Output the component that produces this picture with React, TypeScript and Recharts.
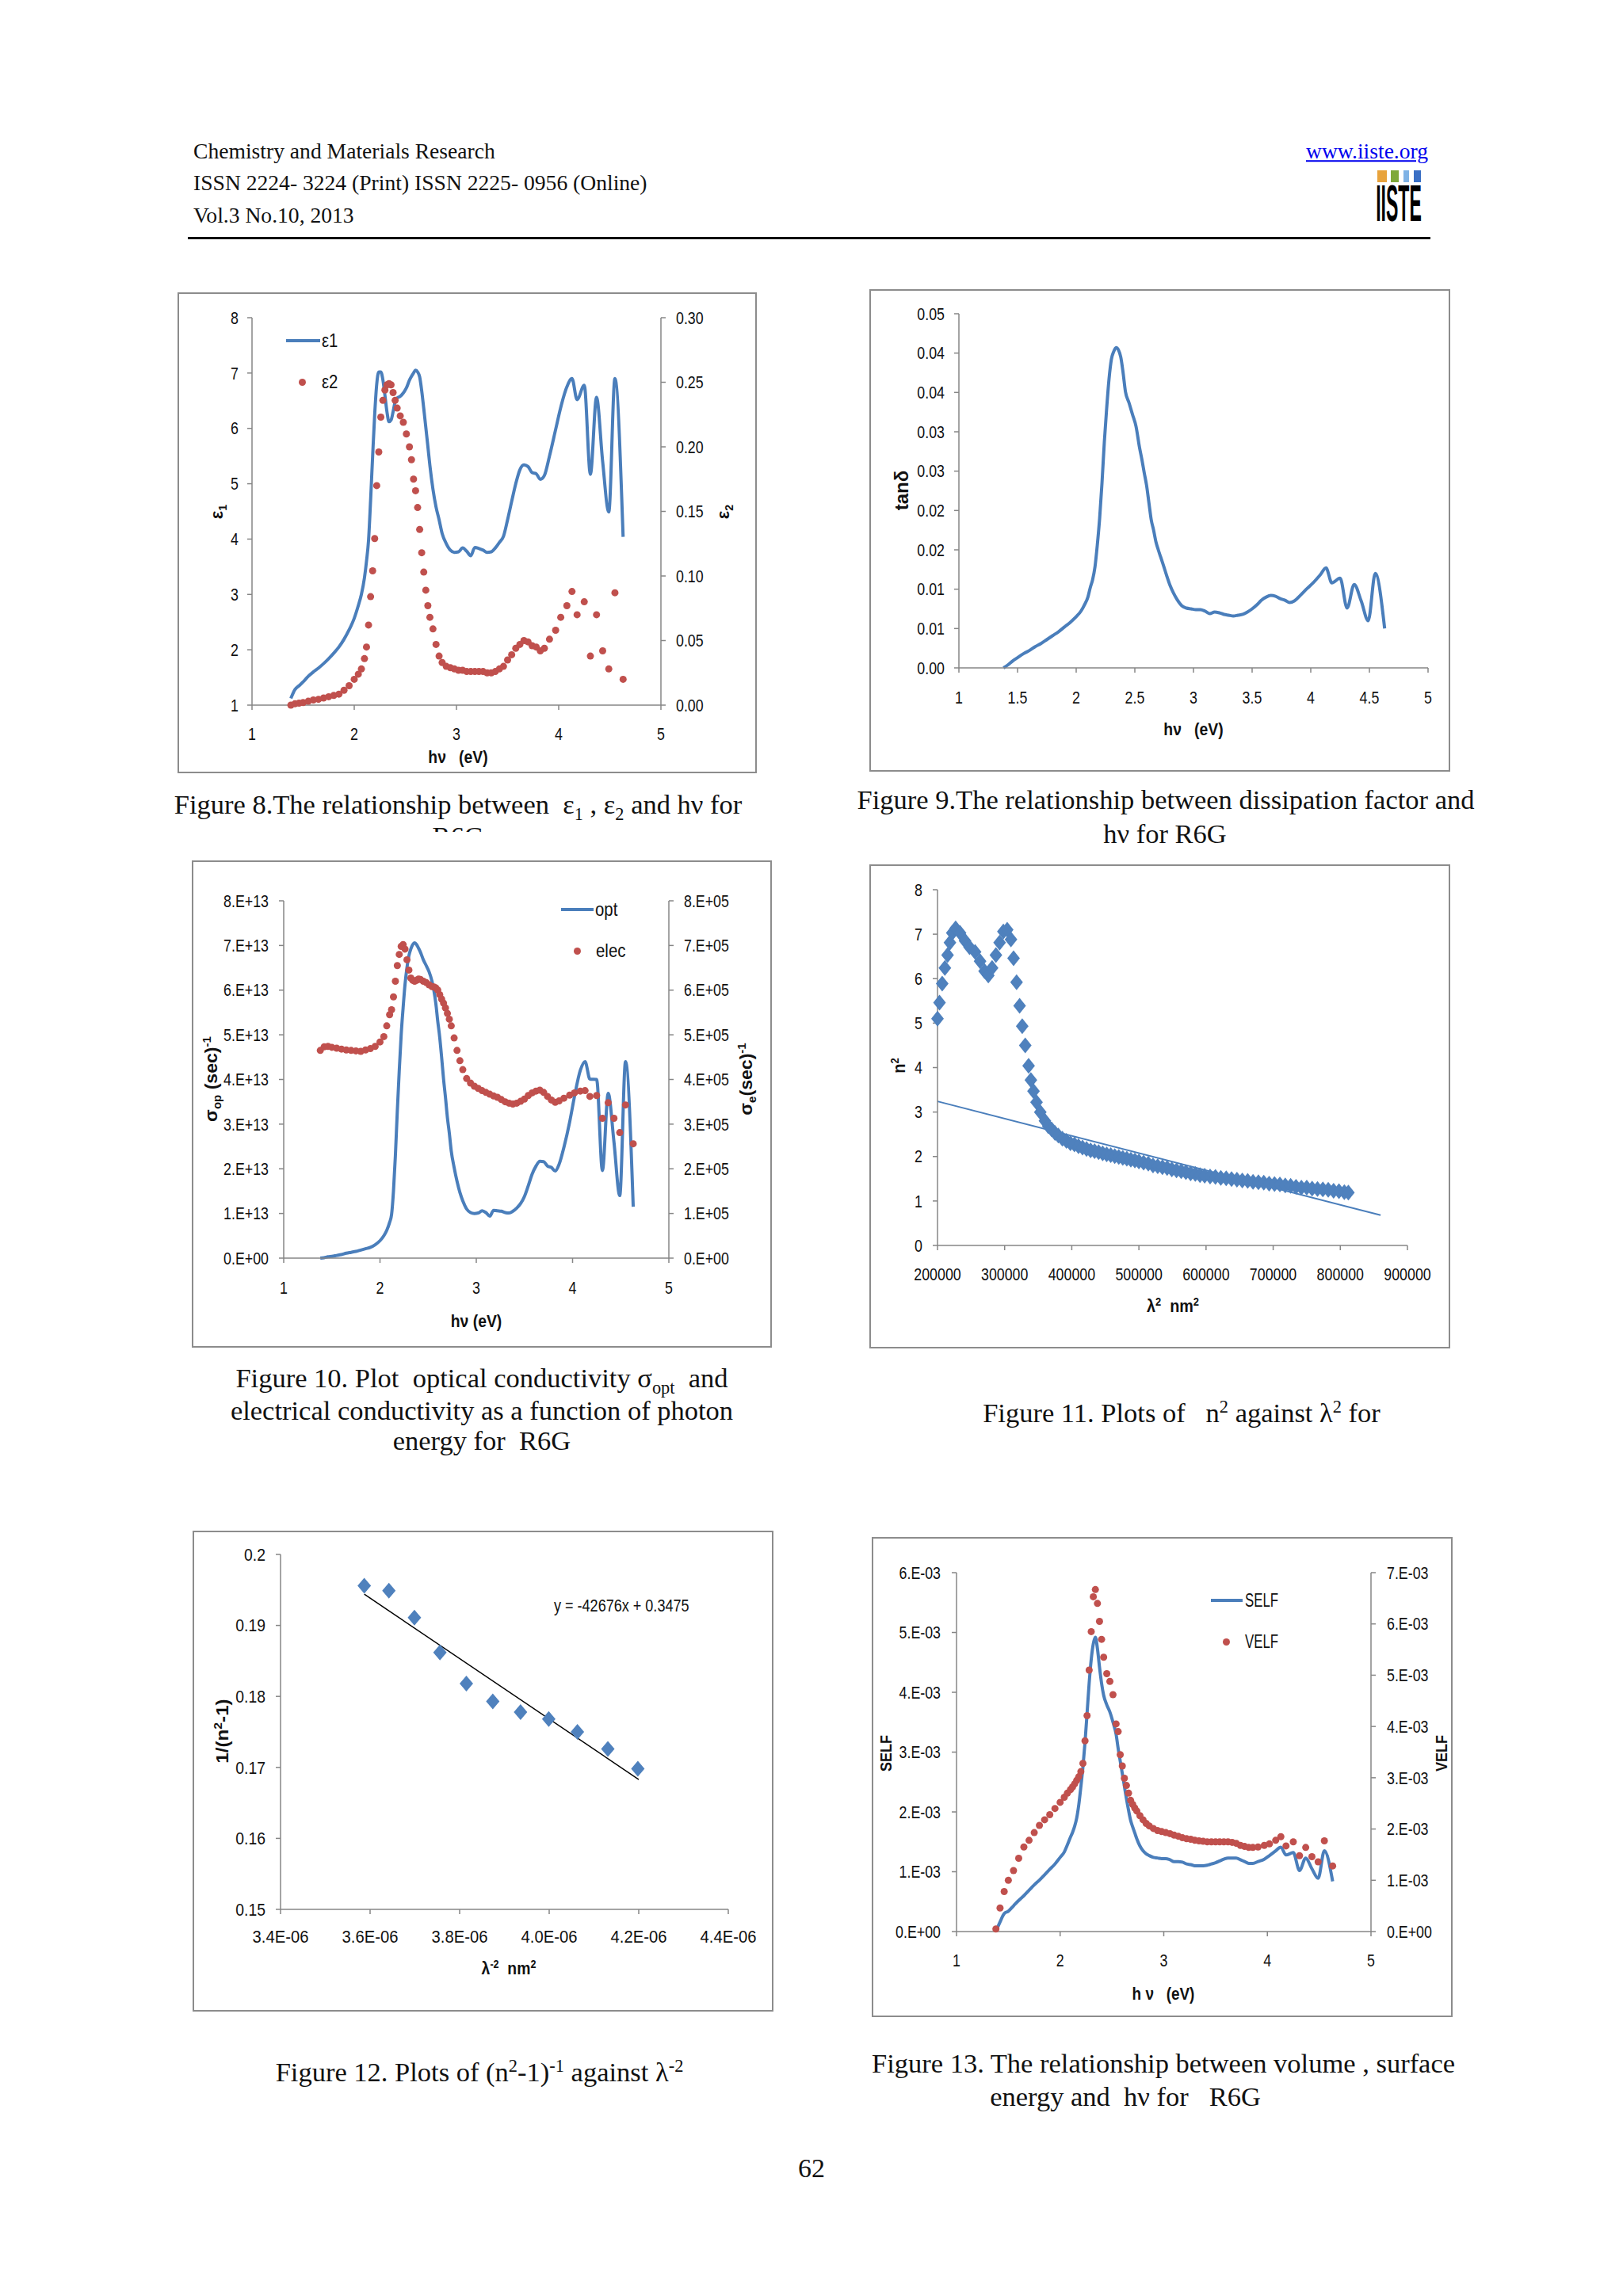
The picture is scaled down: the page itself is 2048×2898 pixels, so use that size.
import React from 'react';
import { ComposedChart, Line, XAxis, YAxis } from 'recharts';

const SANS = '"Liberation Sans", Arial, sans-serif';
const SERIF = '"Liberation Serif", "Times New Roman", serif';
const BLUE = '#4A7EBB';
const RED = '#C0504D';
const DIAMOND = '#4F81BD';
const AXIS = '#868686';
const FRAME = '#8C8C8C';
const INK = '#111111';

// photon energy grid (eV) shared by figs 8, 9, 10, 13
const energy = [
  1.38, 1.42, 1.46, 1.5, 1.55, 1.6, 1.65, 1.7, 1.75, 1.8,
  1.85, 1.9, 1.95, 2.0, 2.04, 2.07, 2.1, 2.12, 2.14, 2.16,
  2.18, 2.2, 2.22, 2.24, 2.26, 2.28, 2.3, 2.32, 2.34, 2.36,
  2.38, 2.4, 2.42, 2.45, 2.48, 2.51, 2.54, 2.56, 2.58, 2.6,
  2.62, 2.64, 2.66, 2.68, 2.7, 2.72, 2.74, 2.77, 2.8, 2.83,
  2.86, 2.9, 2.94, 2.98, 3.02, 3.06, 3.1, 3.14, 3.18, 3.22,
  3.26, 3.3, 3.34, 3.38, 3.42, 3.46, 3.5, 3.54, 3.58, 3.62,
  3.66, 3.7, 3.74, 3.78, 3.82, 3.86, 3.91, 3.97, 4.02, 4.08,
  4.13, 4.18, 4.25, 4.31, 4.37, 4.43, 4.49, 4.55, 4.63,
];

const eps1 = [
  1.12, 1.28, 1.35, 1.42, 1.52, 1.6, 1.67, 1.75, 1.84, 1.94,
  2.05, 2.19, 2.36, 2.57, 2.8, 3.0, 3.3, 3.6, 3.98, 4.7,
  5.5, 6.25, 6.8, 7.02, 7.02, 6.88, 6.6, 6.3, 6.12, 6.15,
  6.3, 6.48, 6.55, 6.58, 6.64, 6.73, 6.87, 6.94, 7.0, 7.05,
  7.02, 6.93, 6.68, 6.36, 6.02, 5.68, 5.33, 4.9, 4.58, 4.35,
  4.1, 3.92, 3.8, 3.76, 3.77, 3.84, 3.78, 3.7, 3.85, 3.83,
  3.8, 3.76, 3.77, 3.84, 3.94, 4.05, 4.35, 4.68, 5.0, 5.25,
  5.34, 5.31, 5.2, 5.18, 5.08, 5.15, 5.5, 5.98, 6.38, 6.75,
  6.9, 6.52, 6.78, 5.17, 6.56, 5.4, 4.49, 6.9, 4.04,
];

const eps2 = [
  0.0, 0.001, 0.0015, 0.002, 0.003, 0.004, 0.0045, 0.0055, 0.0065, 0.0075,
  0.0085, 0.0115, 0.015, 0.02, 0.024, 0.028, 0.036, 0.045, 0.062, 0.084,
  0.104, 0.129, 0.17, 0.196, 0.223, 0.236, 0.244, 0.248, 0.249, 0.248,
  0.242, 0.236, 0.23, 0.224, 0.219, 0.21, 0.2, 0.19, 0.175, 0.166,
  0.153, 0.136, 0.118, 0.103, 0.089, 0.077, 0.068, 0.059, 0.047, 0.038,
  0.033, 0.03, 0.029, 0.028, 0.027, 0.027, 0.026, 0.026, 0.026, 0.026,
  0.026, 0.025, 0.025, 0.026, 0.028, 0.03, 0.035, 0.039, 0.044, 0.047,
  0.05, 0.049, 0.046, 0.045, 0.042, 0.044, 0.051, 0.058, 0.068, 0.077,
  0.088, 0.07, 0.08, 0.038, 0.07, 0.042, 0.028, 0.087, 0.02,
];

const tanDelta = [
  0.0, 0.0004, 0.0009, 0.0013, 0.0018, 0.0022, 0.0027, 0.0031, 0.0036, 0.0041,
  0.0046, 0.0052, 0.0058, 0.0065, 0.0072, 0.008, 0.009, 0.0102, 0.0112, 0.0128,
  0.0156, 0.019, 0.0235, 0.0287, 0.033, 0.0367, 0.0392, 0.0402, 0.0407, 0.0404,
  0.0395, 0.0375, 0.0351, 0.0337, 0.0322, 0.0307, 0.028, 0.0265, 0.0248, 0.0232,
  0.021, 0.0188, 0.0175, 0.016, 0.015, 0.0141, 0.0132, 0.0118, 0.0105, 0.0095,
  0.0087, 0.0079, 0.0076, 0.0075, 0.0074, 0.0074, 0.0072, 0.0069, 0.0071, 0.007,
  0.0068, 0.0067, 0.0066, 0.0067, 0.0068, 0.0071, 0.0075, 0.008, 0.0086, 0.009,
  0.0092, 0.0091, 0.0088, 0.0086, 0.0083, 0.0085, 0.0092, 0.0101, 0.0108, 0.0118,
  0.0127, 0.0108, 0.0114, 0.0076, 0.0106, 0.0085, 0.006, 0.012, 0.005,
];

// optical conductivity, units of 1E+13 (sec)^-1
const sigmaOpt = [
  0.0, 0.01, 0.03, 0.04, 0.06, 0.08, 0.11, 0.13, 0.15, 0.18,
  0.21, 0.24, 0.3, 0.39, 0.5, 0.62, 0.8, 0.97, 1.5, 2.3,
  3.3, 4.2, 5.0, 5.6, 6.13, 6.5, 6.77, 6.92, 7.02, 7.06,
  7.02, 6.94, 6.85, 6.68, 6.55, 6.41, 6.2, 5.99, 5.7, 5.3,
  4.95, 4.5, 4.01, 3.6, 3.15, 2.8, 2.4, 2.03, 1.72, 1.47,
  1.28, 1.1, 1.02, 1.0, 1.01, 1.06, 1.02, 0.94, 1.07, 1.06,
  1.05, 1.02, 1.01, 1.05, 1.12, 1.22, 1.38, 1.62, 1.88, 2.06,
  2.17, 2.16, 2.06, 2.03, 1.95, 2.1, 2.48, 3.05, 3.62, 4.2,
  4.4, 4.01, 4.0, 1.96, 3.69, 2.6, 1.4, 4.4, 1.15,
];

// electrical conductivity, units of 1E+05 (sec)^-1
const sigmaElec = [
  4.65, 4.73, 4.74, 4.72, 4.7, 4.68, 4.66, 4.65, 4.64, 4.63,
  4.66, 4.69, 4.74, 4.84, 4.96, 5.2, 5.45, 5.56, 5.85, 6.2,
  6.55, 6.8, 6.98, 7.02, 6.92, 6.68, 6.45, 6.27, 6.22, 6.2,
  6.22, 6.25, 6.24, 6.2, 6.17, 6.12, 6.08, 6.07, 6.05, 6.0,
  5.9, 5.8, 5.71, 5.6, 5.48, 5.35, 5.2, 4.93, 4.65, 4.42,
  4.22, 4.02, 3.92, 3.85, 3.8, 3.75, 3.71, 3.67, 3.63, 3.6,
  3.55, 3.5, 3.47, 3.45, 3.47, 3.51, 3.56, 3.64, 3.7, 3.74,
  3.76, 3.71, 3.62, 3.54, 3.49, 3.52, 3.58, 3.65, 3.7, 3.74,
  3.75, 3.62, 3.64, 3.13, 3.48, 3.13, 2.81, 3.43, 2.56,
];

// surface energy loss function, units of 1E-03
const selfLoss = [
  0.0, 0.16, 0.3, 0.34, 0.43, 0.52, 0.6, 0.69, 0.78, 0.86,
  0.95, 1.04, 1.13, 1.24, 1.33, 1.45, 1.58, 1.66, 1.76, 1.9,
  2.12, 2.42, 2.75, 3.16, 3.65, 4.15, 4.55, 4.81, 4.92, 4.73,
  4.42, 4.15, 3.95, 3.79, 3.67, 3.5, 3.3, 3.06, 2.85, 2.64,
  2.43, 2.22, 2.03, 1.86, 1.75, 1.65, 1.55, 1.43, 1.35, 1.3,
  1.27, 1.24, 1.23, 1.22, 1.22, 1.2, 1.17, 1.17, 1.16, 1.13,
  1.12, 1.1, 1.1, 1.1, 1.11, 1.13, 1.15, 1.18, 1.21, 1.23,
  1.23, 1.23, 1.2, 1.17, 1.14, 1.14, 1.17, 1.21, 1.27, 1.35,
  1.41, 1.28, 1.32, 1.02, 1.23, 1.05, 0.89, 1.35, 0.84,
];

// volume energy loss function, units of 1E-03
const velfLoss = [
  0.05, 0.46, 0.78, 1.0, 1.19, 1.43, 1.65, 1.78, 1.93, 2.07,
  2.18, 2.28, 2.4, 2.52, 2.62, 2.7, 2.77, 2.82, 2.88, 2.95,
  3.02, 3.12, 3.28, 3.72, 4.21, 5.1, 5.85, 6.53, 6.67, 6.4,
  6.05, 5.7, 5.35, 5.03, 4.88, 4.62, 4.05, 3.9, 3.45, 3.23,
  2.99, 2.85, 2.7, 2.56, 2.48, 2.41, 2.35, 2.26, 2.18, 2.11,
  2.06, 2.01, 1.97, 1.95, 1.93, 1.91, 1.88, 1.86, 1.83, 1.81,
  1.8, 1.78, 1.77, 1.76, 1.75, 1.75, 1.75, 1.75, 1.75, 1.75,
  1.74, 1.72, 1.68, 1.66, 1.64, 1.64, 1.65, 1.68, 1.71, 1.78,
  1.85, 1.67, 1.75, 1.48, 1.64, 1.46, 1.36, 1.77, 1.28,
];

// fig 11: n^2 against lambda^2
const lambda2 = [
  200000, 203000, 207000, 211000, 215000, 218500, 222000, 227000, 233600, 241000,
  247700, 256000, 263400, 270100, 275700, 281300, 287000, 292500, 298100, 303800,
  309400, 313300, 317800, 322300, 326200, 330700, 335700, 339100, 343000, 347500,
  353100, 360000, 365000, 370000, 375000, 380000, 386000, 392000, 398000, 404000,
  410000, 416000, 422000, 428000, 434000, 440000, 446000, 452000, 458000, 464000,
  470000, 476000, 482000, 488000, 494000, 500000, 507000, 514000, 521000, 528000,
  535000, 542000, 549000, 556000, 563000, 570000, 577000, 584000, 591000, 598000,
  606000, 614000, 622000, 630000, 638000, 646000, 654000, 662000, 670000, 678000,
  686000, 694000, 702000, 710000, 718000, 726000, 734000, 742000, 750000, 758000,
  766000, 774000, 782000, 790000, 798000, 806000, 812000,
];
const nSquared = [
  5.1, 5.46, 5.89, 6.24, 6.53, 6.81, 7.03, 7.13, 7.03, 6.85,
  6.71, 6.6, 6.39, 6.17, 6.07, 6.24, 6.53, 6.81, 7.06, 7.1,
  6.88, 6.46, 5.92, 5.39, 4.93, 4.5, 4.04, 3.72, 3.47, 3.22,
  3.0, 2.8, 2.68, 2.61, 2.53, 2.47, 2.4, 2.35, 2.3, 2.27,
  2.23, 2.2, 2.17, 2.14, 2.12, 2.1, 2.07, 2.05, 2.03, 2.01,
  1.99, 1.97, 1.95, 1.93, 1.91, 1.89, 1.86, 1.84, 1.8, 1.78,
  1.76, 1.74, 1.71, 1.69, 1.67, 1.65, 1.62, 1.61, 1.58, 1.57,
  1.55, 1.54, 1.52, 1.51, 1.49, 1.48, 1.46, 1.45, 1.43, 1.42,
  1.41, 1.39, 1.38, 1.37, 1.35, 1.34, 1.32, 1.3, 1.3, 1.28,
  1.27, 1.26, 1.25, 1.23, 1.22, 1.2, 1.19,
];
const fit11X = [200000, 860000];
const fit11Y = [3.24, 0.68];

// fig 12: (n^2-1)^-1 against lambda^-2
const invLambda2 = [3.587e-6, 3.642e-6, 3.699e-6, 3.756e-6, 3.815e-6, 3.874e-6, 3.936e-6, 3.999e-6, 4.063e-6, 4.131e-6, 4.198e-6];
const invN2 = [0.1956, 0.1949, 0.1911, 0.1862, 0.1818, 0.1793, 0.1778, 0.1768, 0.175, 0.1726, 0.1698];
const fit12X = [3.587e-6, 4.2e-6];
const fit12Y = [0.1944, 0.1683];

// ticks
const evTicks = [1, 2, 3, 4, 5];
const evTickLabels = ['1', '2', '3', '4', '5'];
const evHalfTicks = [1, 1.5, 2, 2.5, 3, 3.5, 4, 4.5, 5];
const evHalfLabels = ['1', '1.5', '2', '2.5', '3', '3.5', '4', '4.5', '5'];
const eps1Ticks = [1, 2, 3, 4, 5, 6, 7, 8];
const eps1Labels = ['1', '2', '3', '4', '5', '6', '7', '8'];
const eps2Ticks = [0, 0.05, 0.1, 0.15, 0.2, 0.25, 0.3];
const eps2Labels = ['0.00', '0.05', '0.10', '0.15', '0.20', '0.25', '0.30'];
const tanTicks = [0, 0.005, 0.01, 0.015, 0.02, 0.025, 0.03, 0.035, 0.04, 0.045];
const tanLabels = ['0.00', '0.01', '0.01', '0.02', '0.02', '0.03', '0.03', '0.04', '0.04', '0.05'];
const sigTicks = [0, 1, 2, 3, 4, 5, 6, 7, 8];
const optLabels = ['0.E+00', '1.E+13', '2.E+13', '3.E+13', '4.E+13', '5.E+13', '6.E+13', '7.E+13', '8.E+13'];
const elecLabels = ['0.E+00', '1.E+05', '2.E+05', '3.E+05', '4.E+05', '5.E+05', '6.E+05', '7.E+05', '8.E+05'];
const lamTicks = [200000, 300000, 400000, 500000, 600000, 700000, 800000, 900000];
const lamLabels = ['200000', '300000', '400000', '500000', '600000', '700000', '800000', '900000'];
const n2Ticks = [0, 1, 2, 3, 4, 5, 6, 7, 8];
const n2Labels = ['0', '1', '2', '3', '4', '5', '6', '7', '8'];
const invLamTicks = [3.4e-6, 3.6e-6, 3.8e-6, 4.0e-6, 4.2e-6, 4.4e-6];
const invLamLabels = ['3.4E-06', '3.6E-06', '3.8E-06', '4.0E-06', '4.2E-06', '4.4E-06'];
const invNTicks = [0.15, 0.16, 0.17, 0.18, 0.19, 0.2];
const invNLabels = ['0.15', '0.16', '0.17', '0.18', '0.19', '0.2'];
const selfTicks = [0, 1, 2, 3, 4, 5, 6];
const selfLabels = ['0.E+00', '1.E-03', '2.E-03', '3.E-03', '4.E-03', '5.E-03', '6.E-03'];
const velfTicks = [0, 1, 2, 3, 4, 5, 6, 7];
const velfLabels = ['0.E+00', '1.E-03', '2.E-03', '3.E-03', '4.E-03', '5.E-03', '6.E-03', '7.E-03'];

const evRows = energy.map((e, i) => ({
  e,
  eps1: eps1[i],
  eps2: eps2[i],
  tan: tanDelta[i],
  opt: sigmaOpt[i],
  elec: sigmaElec[i],
  self: selfLoss[i],
  velf: velfLoss[i],
}));

const rows11 = [
  ...lambda2.map((x, i) => ({ x, n2: nSquared[i] as number | null, fit: null as number | null })),
  ...fit11X.map((x, i) => ({ x, n2: null, fit: fit11Y[i] })),
].sort((a, b) => a.x - b.x);

const rows12 = [
  ...invLambda2.map((x, i) => ({ x, v: invN2[i] as number | null, fit: null as number | null })),
  ...fit12X.map((x, i) => ({ x, v: null, fit: fit12Y[i] })),
].sort((a, b) => a.x - b.x);

type Geo = { f: number[]; p: number[] };
const G8: Geo = { f: [224, 369, 955, 976], p: [318, 401, 834, 890] };
const G9: Geo = { f: [1097, 365, 1830, 974], p: [1210, 396, 1802, 843] };
const G10: Geo = { f: [242, 1086, 974, 1701], p: [358, 1137, 844, 1588] };
const G11: Geo = { f: [1097, 1091, 1830, 1702], p: [1183, 1123, 1776, 1572] };
const G12: Geo = { f: [243, 1932, 976, 2539], p: [354, 1962, 919, 2410] };
const G13: Geo = { f: [1100, 1940, 1833, 2546], p: [1207, 1985, 1730, 2438] };

const box = (g: Geo) => ({
  w: g.f[2] - g.f[0],
  h: g.f[3] - g.f[1],
  top: g.p[1] - g.f[1],
  left: g.p[0] - g.f[0],
  right: g.f[2] - g.p[2],
  bottom: g.f[3] - g.p[3],
});

const ax = { stroke: AXIS, strokeWidth: 1.5 };
const LW = 4;
const DOT = { r: 4.5, fill: RED, stroke: 'none' };

const tickFn = (ticks: number[], labels: string[], side: 'l' | 'r' | 'b', sx = 0.81) => (p: any) => {
  const v = p.payload ? p.payload.value : 0;
  const i = ticks.findIndex((t) => Math.abs(t - v) <= Math.abs(t) * 1e-6 + 1e-15);
  const anchor = side === 'l' ? 'end' : side === 'r' ? 'start' : 'middle';
  return (
    <text
      key={`t${side}${p.index}`}
      transform={`translate(${p.x},${p.y}) scale(${sx},1)`}
      textAnchor={anchor}
      dy={side === 'b' ? '0.71em' : '0.35em'}
      fontSize={22}
      fontFamily={SANS}
      fill={INK}
    >
      {i >= 0 ? labels[i] : String(v)}
    </text>
  );
};

const diamond = (w: number, h: number) => (p: any) => {
  const { cx, cy, index } = p;
  if (typeof cx !== 'number' || typeof cy !== 'number' || Number.isNaN(cy) || p.value == null) {
    return <g key={`n${index}`} />;
  }
  return <path key={`d${index}`} d={`M${cx},${cy - h}L${cx + w},${cy}L${cx},${cy + h}L${cx - w},${cy}Z`} fill={DIAMOND} />;
};

type TxtProps = {
  x: number;
  y: number;
  size: number;
  children: React.ReactNode;
  anchor?: 'start' | 'middle';
  bold?: boolean;
  rot?: number;
  sx?: number;
  serif?: boolean;
  color?: string;
  underline?: boolean;
};

const Txt = ({ x, y, size, children, anchor = 'middle', bold, rot = 0, sx = 1, serif, color = INK, underline }: TxtProps) => (
  <div
    style={{
      position: 'absolute',
      left: x,
      top: y,
      whiteSpace: 'pre',
      lineHeight: 1,
      fontFamily: serif ? SERIF : SANS,
      fontSize: size,
      fontWeight: bold ? 700 : 400,
      color,
      textDecoration: underline ? 'underline' : 'none',
      transform: `translate(${anchor === 'middle' ? '-50%' : '0'}, -50%) rotate(${rot}deg) scale(${sx}, 1)`,
      transformOrigin: anchor === 'middle' ? '50% 50%' : '0 50%',
    }}
  >
    {children}
  </div>
);

const Sub = ({ children }: { children: React.ReactNode }) => (
  <span style={{ fontSize: '0.65em', position: 'relative', top: '0.35em' }}>{children}</span>
);
const Sup = ({ children }: { children: React.ReactNode }) => (
  <span style={{ fontSize: '0.65em', position: 'relative', top: '-0.55em' }}>{children}</span>
);

const Frame = ({ g }: { g: Geo }) => (
  <div
    style={{
      position: 'absolute',
      left: g.f[0],
      top: g.f[1],
      width: g.f[2] - g.f[0],
      height: g.f[3] - g.f[1],
      border: `2px solid ${FRAME}`,
      boxSizing: 'border-box',
    }}
  />
);

const Spot = ({ g, children }: { g: Geo; children: React.ReactNode }) => (
  <div style={{ position: 'absolute', left: g.f[0], top: g.f[1] }}>{children}</div>
);

const LegLine = ({ x1, x2, y }: { x1: number; x2: number; y: number }) => (
  <div style={{ position: 'absolute', left: x1, top: y - 2, width: x2 - x1, height: 4, background: BLUE }} />
);
const LegDot = ({ x, y }: { x: number; y: number }) => (
  <div style={{ position: 'absolute', left: x - 4.5, top: y - 4.5, width: 9, height: 9, borderRadius: '50%', background: RED }} />
);

const b8 = box(G8);
const b9 = box(G9);
const b10 = box(G10);
const b11 = box(G11);
const b12 = box(G12);
const b13 = box(G13);

export default function App() {
  return (
    <div style={{ position: 'absolute', left: 0, top: 0, width: 2048, height: 2898, background: '#fff', overflow: 'hidden' }}>
      {/* page header */}
      <Txt x={244} y={191} size={27.6} serif anchor="start">Chemistry and Materials Research</Txt>
      <Txt x={244} y={231} size={27.6} serif anchor="start">ISSN 2224- 3224 (Print) ISSN 2225- 0956 (Online)</Txt>
      <Txt x={244} y={272} size={27.6} serif anchor="start">Vol.3 No.10, 2013</Txt>
      <Txt x={1648} y={191} size={27.6} serif anchor="start" color="#0000EE" underline>www.iiste.org</Txt>
      <div style={{ position: 'absolute', left: 1738, top: 215, width: 12, height: 15, background: '#E8A33C' }} />
      <div style={{ position: 'absolute', left: 1755, top: 215, width: 10, height: 15, background: '#7FA83A' }} />
      <div style={{ position: 'absolute', left: 1771, top: 215, width: 7, height: 15, background: '#7FB2E5' }} />
      <div style={{ position: 'absolute', left: 1784, top: 215, width: 9, height: 15, background: '#3A6FC4' }} />
      <Txt x={1765} y={257} size={64} bold sx={0.36} color="#000">IISTE</Txt>
      <div style={{ position: 'absolute', left: 237, top: 299, width: 1568, height: 3, background: '#000' }} />

      {/* Figure 8 */}
      <Frame g={G8} />
      <Spot g={G8}>
        <ComposedChart width={b8.w} height={b8.h} data={evRows} margin={{ top: b8.top, right: 0, bottom: 0, left: 0 }}>
          <XAxis type="number" dataKey="e" domain={[1, 5]} ticks={evTicks} interval={0} height={b8.bottom}
            axisLine={ax} tickLine={ax} tickSize={6} tickMargin={22} tick={tickFn(evTicks, evTickLabels, 'b')} />
          <YAxis yAxisId="l" type="number" domain={[1, 8]} ticks={eps1Ticks} interval={0} width={b8.left}
            axisLine={ax} tickLine={ax} tickSize={6} tickMargin={11} tick={tickFn(eps1Ticks, eps1Labels, 'l')} />
          <YAxis yAxisId="r" orientation="right" type="number" domain={[0, 0.3]} ticks={eps2Ticks} interval={0} width={b8.right}
            axisLine={ax} tickLine={ax} tickSize={6} tickMargin={13} tick={tickFn(eps2Ticks, eps2Labels, 'r')} />
          <Line yAxisId="l" dataKey="eps1" type="monotone" stroke={BLUE} strokeWidth={LW} dot={false} activeDot={false} isAnimationActive={false} />
          <Line yAxisId="r" dataKey="eps2" stroke="none" dot={DOT} activeDot={false} isAnimationActive={false} />
        </ComposedChart>
      </Spot>
      <LegLine x1={361} x2={404} y={430} />
      <Txt x={406} y={430} size={24} sx={0.85} anchor="start">ε1</Txt>
      <LegDot x={381.5} y={482} />
      <Txt x={406} y={482} size={24} sx={0.85} anchor="start">ε2</Txt>
      <Txt x={274} y={646} size={22} bold rot={-90}>ε<Sub>1</Sub></Txt>
      <Txt x={913} y={646} size={22} bold rot={-90}>ε<Sub>2</Sub></Txt>
      <Txt x={578} y={956} size={22} bold sx={0.88}>{'hν   (eV)'}</Txt>
      <Txt x={578} y={1015} size={34.5} serif>
        {'Figure 8.The relationship between  ε'}<Sub>1</Sub>{' , ε'}<Sub>2</Sub>{' and hν for'}
      </Txt>
      <div style={{ position: 'absolute', left: 478, top: 1030, width: 200, height: 20, overflow: 'hidden' }}>
        <Txt x={100} y={25} size={34.5} serif>R6G</Txt>
      </div>

      {/* Figure 9 */}
      <Frame g={G9} />
      <Spot g={G9}>
        <ComposedChart width={b9.w} height={b9.h} data={evRows} margin={{ top: b9.top, right: b9.right, bottom: 0, left: 0 }}>
          <XAxis type="number" dataKey="e" domain={[1, 5]} ticks={evHalfTicks} interval={0} height={b9.bottom}
            axisLine={ax} tickLine={ax} tickSize={6} tickMargin={23} tick={tickFn(evHalfTicks, evHalfLabels, 'b')} />
          <YAxis type="number" domain={[0, 0.045]} ticks={tanTicks} interval={0} width={b9.left}
            axisLine={ax} tickLine={ax} tickSize={6} tickMargin={12} tick={tickFn(tanTicks, tanLabels, 'l')} />
          <Line dataKey="tan" type="monotone" stroke={BLUE} strokeWidth={LW} dot={false} activeDot={false} isAnimationActive={false} />
        </ComposedChart>
      </Spot>
      <Txt x={1138} y={619} size={24} bold rot={-90}>tanδ</Txt>
      <Txt x={1506} y={921} size={22} bold sx={0.88}>{'hν   (eV)'}</Txt>
      <Txt x={1471} y={1009} size={34.5} serif>Figure 9.The relationship between dissipation factor and</Txt>
      <Txt x={1470} y={1052} size={34.5} serif>hν for R6G</Txt>

      {/* Figure 10 */}
      <Frame g={G10} />
      <Spot g={G10}>
        <ComposedChart width={b10.w} height={b10.h} data={evRows} margin={{ top: b10.top, right: 0, bottom: 0, left: 0 }}>
          <XAxis type="number" dataKey="e" domain={[1, 5]} ticks={evTicks} interval={0} height={b10.bottom}
            axisLine={ax} tickLine={ax} tickSize={6} tickMargin={23} tick={tickFn(evTicks, evTickLabels, 'b')} />
          <YAxis yAxisId="l" type="number" domain={[0, 8]} ticks={sigTicks} interval={0} width={b10.left}
            axisLine={ax} tickLine={ax} tickSize={6} tickMargin={13} tick={tickFn(sigTicks, optLabels, 'l')} />
          <YAxis yAxisId="r" orientation="right" type="number" domain={[0, 8]} ticks={sigTicks} interval={0} width={b10.right}
            axisLine={ax} tickLine={ax} tickSize={6} tickMargin={13} tick={tickFn(sigTicks, elecLabels, 'r')} />
          <Line yAxisId="l" dataKey="opt" type="monotone" stroke={BLUE} strokeWidth={LW} dot={false} activeDot={false} isAnimationActive={false} />
          <Line yAxisId="r" dataKey="elec" stroke="none" dot={DOT} activeDot={false} isAnimationActive={false} />
        </ComposedChart>
      </Spot>
      <LegLine x1={708} x2={749} y={1148} />
      <Txt x={751} y={1148} size={24} sx={0.85} anchor="start">opt</Txt>
      <LegDot x={728} y={1200} />
      <Txt x={752} y={1200} size={24} sx={0.85} anchor="start">elec</Txt>
      <Txt x={267} y={1362} size={22} bold rot={-90} sx={1.05}>σ<Sub>op</Sub>{' (sec)'}<Sup>-1</Sup></Txt>
      <Txt x={942} y={1362} size={22} bold rot={-90} sx={1.05}>σ<Sub>e</Sub>(sec)<Sup>-1</Sup></Txt>
      <Txt x={601} y={1668} size={22} bold sx={0.88}>hν (eV)</Txt>
      <Txt x={608} y={1739} size={34.5} serif>{'Figure 10. Plot  optical conductivity σ'}<Sub>opt</Sub>{'  and'}</Txt>
      <Txt x={608} y={1780} size={34.5} serif>electrical conductivity as a function of photon</Txt>
      <Txt x={608} y={1818} size={34.5} serif>{'energy for  R6G'}</Txt>

      {/* Figure 11 */}
      <Frame g={G11} />
      <Spot g={G11}>
        <ComposedChart width={b11.w} height={b11.h} data={rows11} margin={{ top: b11.top, right: b11.right, bottom: 0, left: 0 }}>
          <XAxis type="number" dataKey="x" domain={[200000, 900000]} ticks={lamTicks} interval={0} height={b11.bottom}
            axisLine={ax} tickLine={ax} tickSize={6} tickMargin={22} tick={tickFn(lamTicks, lamLabels, 'b')} />
          <YAxis type="number" domain={[0, 8]} ticks={n2Ticks} interval={0} width={b11.left}
            axisLine={ax} tickLine={ax} tickSize={6} tickMargin={13} tick={tickFn(n2Ticks, n2Labels, 'l')} />
          <Line dataKey="n2" stroke="none" dot={diamond(8, 10)} activeDot={false} isAnimationActive={false} />
          <Line dataKey="fit" type="linear" connectNulls stroke={BLUE} strokeWidth={2} dot={false} activeDot={false} isAnimationActive={false} />
        </ComposedChart>
      </Spot>
      <Txt x={1135} y={1345} size={22} bold rot={-90} sx={0.9}>n<Sup>2</Sup></Txt>
      <Txt x={1480} y={1649} size={22} bold sx={0.9}>λ<Sup>2</Sup>{'  nm'}<Sup>2</Sup></Txt>
      <Txt x={1491} y={1783} size={34.5} serif>{'Figure 11. Plots of   n'}<Sup>2</Sup>{' against λ'}<Sup>2</Sup>{' for'}</Txt>

      {/* Figure 12 */}
      <Frame g={G12} />
      <Spot g={G12}>
        <ComposedChart width={b12.w} height={b12.h} data={rows12} margin={{ top: b12.top, right: b12.right, bottom: 0, left: 0 }}>
          <XAxis type="number" dataKey="x" domain={[3.4e-6, 4.4e-6]} ticks={invLamTicks} interval={0} height={b12.bottom}
            axisLine={ax} tickLine={ax} tickSize={6} tickMargin={20} tick={tickFn(invLamTicks, invLamLabels, 'b', 0.92)} />
          <YAxis type="number" domain={[0.15, 0.2]} ticks={invNTicks} interval={0} width={b12.left}
            axisLine={ax} tickLine={ax} tickSize={6} tickMargin={13} tick={tickFn(invNTicks, invNLabels, 'l', 0.88)} />
          <Line dataKey="fit" type="linear" connectNulls stroke="#000" strokeWidth={1.5} dot={false} activeDot={false} isAnimationActive={false} />
          <Line dataKey="v" stroke="none" dot={diamond(8.5, 10)} activeDot={false} isAnimationActive={false} />
        </ComposedChart>
      </Spot>
      <Txt x={281} y={2185} size={22} bold rot={-90} sx={1.1}>1/(n<Sup>2</Sup>-1)</Txt>
      <Txt x={642} y={2485} size={22} bold sx={0.88}>λ<Sup>-2</Sup>{'  nm'}<Sup>2</Sup></Txt>
      <Txt x={699} y={2027} size={22} sx={0.82} anchor="start">y = -42676x + 0.3475</Txt>
      <Txt x={605} y={2615} size={34.5} serif>
        {'Figure 12. Plots of (n'}<Sup>2</Sup>{'-1)'}<Sup>-1</Sup>{' against λ'}<Sup>-2</Sup>
      </Txt>

      {/* Figure 13 */}
      <Frame g={G13} />
      <Spot g={G13}>
        <ComposedChart width={b13.w} height={b13.h} data={evRows} margin={{ top: b13.top, right: 0, bottom: 0, left: 0 }}>
          <XAxis type="number" dataKey="e" domain={[1, 5]} ticks={evTicks} interval={0} height={b13.bottom}
            axisLine={ax} tickLine={ax} tickSize={6} tickMargin={22} tick={tickFn(evTicks, evTickLabels, 'b')} />
          <YAxis yAxisId="l" type="number" domain={[0, 6]} ticks={selfTicks} interval={0} width={b13.left}
            axisLine={ax} tickLine={ax} tickSize={6} tickMargin={14} tick={tickFn(selfTicks, selfLabels, 'l')} />
          <YAxis yAxisId="r" orientation="right" type="number" domain={[0, 7]} ticks={velfTicks} interval={0} width={b13.right}
            axisLine={ax} tickLine={ax} tickSize={6} tickMargin={14} tick={tickFn(velfTicks, velfLabels, 'r')} />
          <Line yAxisId="l" dataKey="self" type="monotone" stroke={BLUE} strokeWidth={LW} dot={false} activeDot={false} isAnimationActive={false} />
          <Line yAxisId="r" dataKey="velf" stroke="none" dot={DOT} activeDot={false} isAnimationActive={false} />
        </ComposedChart>
      </Spot>
      <LegLine x1={1528} x2={1568} y={2020} />
      <Txt x={1571} y={2020} size={24} sx={0.7} anchor="start">SELF</Txt>
      <LegDot x={1547} y={2072} />
      <Txt x={1571} y={2072} size={24} sx={0.7} anchor="start">VELF</Txt>
      <Txt x={1118} y={2213} size={20} bold rot={-90} sx={0.9}>SELF</Txt>
      <Txt x={1819} y={2213} size={20} bold rot={-90} sx={0.9}>VELF</Txt>
      <Txt x={1468} y={2517} size={22} bold sx={0.86}>{'h ν   (eV)'}</Txt>
      <Txt x={1468} y={2604} size={34.5} serif>Figure 13. The relationship between volume , surface</Txt>
      <Txt x={1420} y={2646} size={34.5} serif>{'energy and  hν for   R6G'}</Txt>

      <Txt x={1024} y={2737} size={34} serif>62</Txt>
    </div>
  );
}
